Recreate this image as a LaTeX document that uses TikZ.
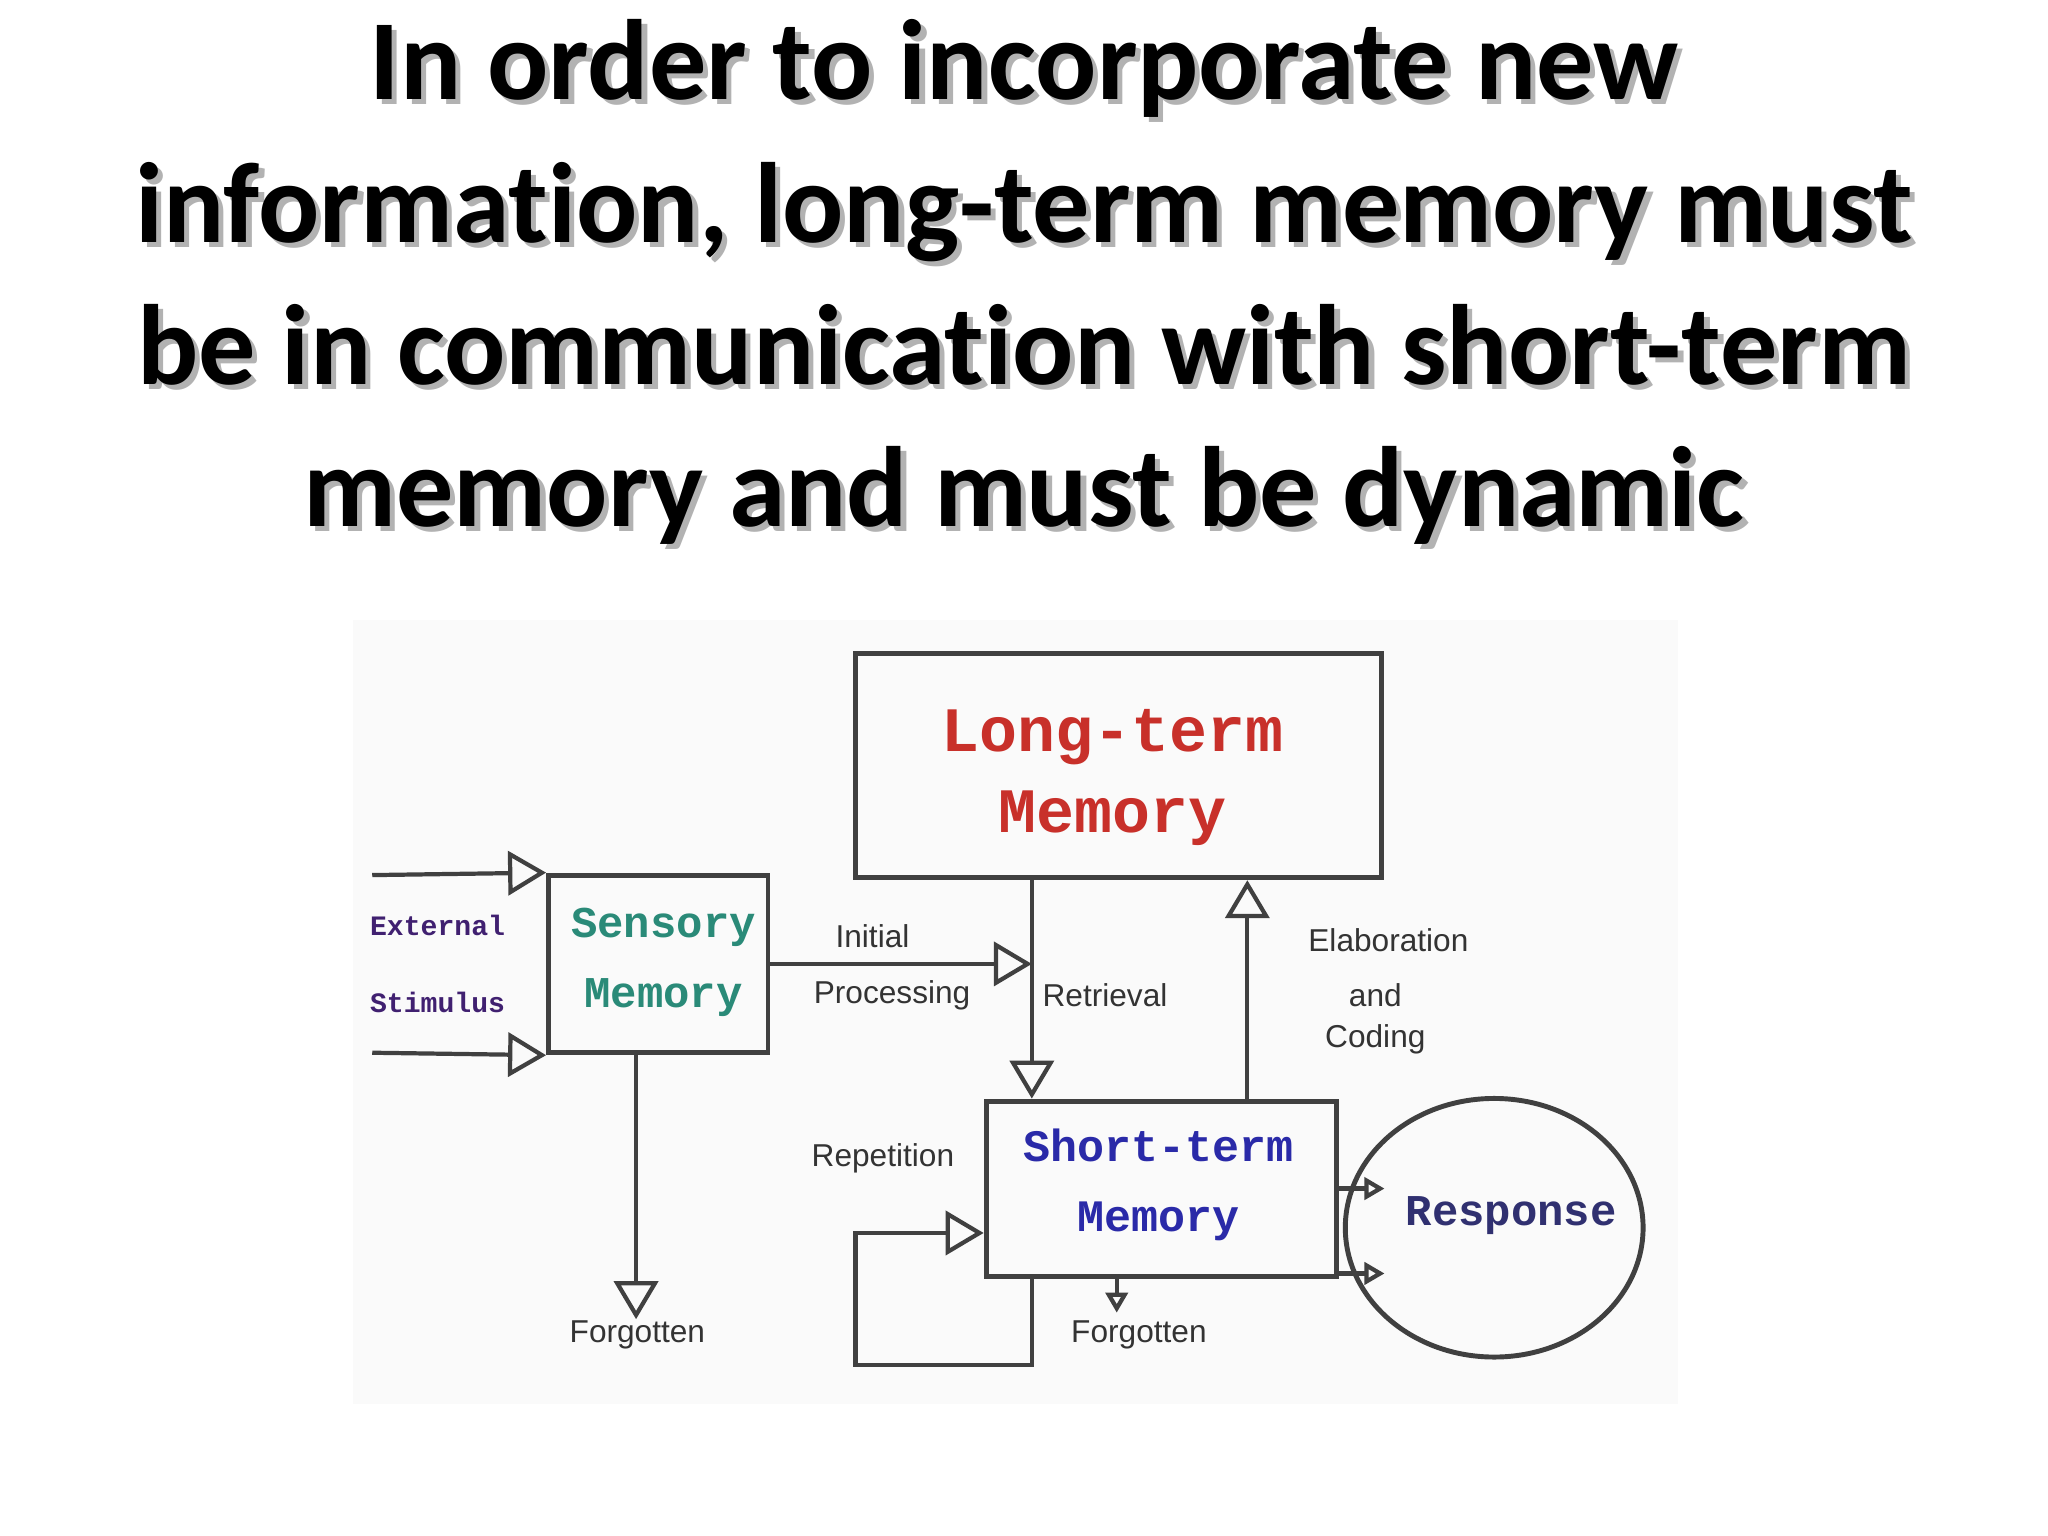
\documentclass[tikz,border=0pt]{standalone}
\usepackage{fontspec}
\setmainfont{Carlito}[Ligatures={NoCommon}]
\newfontfamily\monob{Liberation Mono}
\newfontfamily\sansf{Liberation Sans}
\usetikzlibrary{arrows.meta,shapes.geometric}
\definecolor{ltred}{HTML}{C8302A}
\definecolor{sensteal}{HTML}{2A8A78}
\definecolor{stblue}{HTML}{2A2AA8}
\definecolor{respnavy}{HTML}{303070}
\definecolor{extpurple}{HTML}{402070}
\tikzset{
  box/.style={draw=black!75, line width=1.4pt, inner sep=0pt},
  memtxt/.style={font=\monob\bfseries, align=center},
  lbl/.style={font=\sansf\fontsize{9}{11}\selectfont, text=black!80, align=center},
  conn/.style={draw=black!75, line width=1.2pt},
  bigarr/.style={conn, -{Triangle[open, length=0.38cm, width=0.44cm]}},
  smallarr/.style={conn, -{Triangle[open, length=0.2cm, width=0.22cm]}},
  titletxt/.style={font=\bfseries\fontsize{32.5}{40.5}\selectfont, align=center},
}
\begin{document}
\begin{tikzpicture}[x=0.01306cm, y=-0.01306cm]
\useasboundingbox (0,0) rectangle (1568,1176);
\fill[white] (0,0) rectangle (1568,1176);
\fill[black!2] (270,475) rectangle (1285,1075);
% title
\node[titletxt, text=black!30, xshift=1.5pt, yshift=-1.5pt] at (784,216) {In order to incorporate new\\information, long-term memory must\\be in communication with short-term\\memory and must be dynamic};
\node[titletxt] (title) at (784,216) {In order to incorporate new\\information, long-term memory must\\be in communication with short-term\\memory and must be dynamic};
% boxes
\node[box, minimum width=403*0.01306cm, minimum height=172*0.01306cm] (ltm) at (856.5,586) {};
\node[memtxt, text=ltred, font=\monob\bfseries\fontsize{18}{23}\selectfont] at (852,595) {Long-term\\Memory};
\node[box, minimum width=168*0.01306cm, minimum height=136*0.01306cm] (sm) at (504,738) {};
\node[memtxt, text=sensteal, font=\monob\bfseries\fontsize{12.5}{20}\selectfont] at (508,737) {Sensory\\Memory};
\node[box, minimum width=268*0.01306cm, minimum height=134*0.01306cm] (stm) at (889,910) {};
\node[memtxt, text=stblue, font=\monob\bfseries\fontsize{12.8}{20}\selectfont] at (887,907) {Short-term\\Memory};
\node[draw=black!75, line width=1.4pt, ellipse, inner sep=0pt, minimum width=228*0.01306cm, minimum height=198*0.01306cm] (resp) at (1144,940) {};
\node[memtxt, text=respnavy, font=\monob\bfseries\fontsize{12.5}{15}\selectfont] at (1157,931) {Response};
% external stimulus
\node[memtxt, text=extpurple, font=\monob\bfseries\fontsize{8}{22}\selectfont] (ext) at (335,738) {External\\Stimulus};
\coordinate (in1) at (285,670);
\coordinate (in2) at (285,806);
\draw[bigarr] (in1) -- (sm.north west);
\draw[bigarr] (in2) -- (sm.south west);
% initial processing
\coordinate (ipend) at (790,738);
\draw[bigarr] (sm.east) -- (ipend);
\node[lbl] at (668,717) {Initial};
\node[lbl] at (683,762) {Processing};
% retrieval
\draw[bigarr] (ltm.south -| 790,0) -- (stm.north -| 790,0);
\node[lbl] at (846,762) {Retrieval};
% elaboration
\draw[bigarr] (stm.north -| 955,0) -- (ltm.south -| 955,0);
\node[lbl] at (1063,720) {Elaboration};
\node[lbl] at (1053,762) {and};
\node[lbl] at (1053,796) {Coding};
% sensory forgotten
\node[lbl] (f1) at (488,1022) {Forgotten};
\draw[bigarr] (sm.south -| 487,0) -- (487,1010);
% stm forgotten
\node[lbl] (f2) at (872,1022) {Forgotten};
\draw[smallarr] (stm.south -| 855,0) -- (855,1005);
% repetition loop
\node[lbl] at (676,887) {Repetition};
\draw[bigarr] (stm.south -| 790,0) -- (790,1045) -- (655,1045) -- (655,944) -- (stm.west |- 0,944);
% to response
\draw[smallarr] (stm.east |- 0,910) -- (1060,910);
\draw[smallarr] (stm.east |- 0,975) -- (1060,975);
\end{tikzpicture}
\end{document}
